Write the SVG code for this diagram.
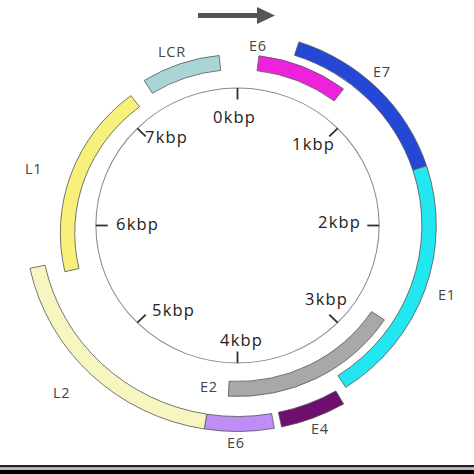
<svg xmlns="http://www.w3.org/2000/svg" width="474" height="474" viewBox="0 0 474 474">
<style>
.band{stroke:#555;stroke-width:0.8;stroke-linejoin:miter}
.kb{font-family:"Open Sans","DejaVu Sans",sans-serif;font-size:16.5px;letter-spacing:1.2px;fill:#222}
.gl{font-family:"Open Sans","DejaVu Sans",sans-serif;font-size:14.5px;letter-spacing:0.8px;fill:#444}
.tick{stroke:#333;stroke-width:1.8}
</style>
<rect width="474" height="474" fill="#fff"/>
<g id="arrow">
<line x1="198" y1="15.5" x2="259" y2="15.5" stroke="#555" stroke-width="5"/>
<polygon points="257,7 275,15.5 257,24" fill="#555"/>
</g>
<g id="genome" transform="translate(237.5 225.5) scale(1.03 1)">
<circle cx="0" cy="0" r="137.5" fill="none" stroke="#888" stroke-width="1"/>
</g>
<g id="connectors" transform="translate(237.5 225.5) scale(1.03 1)">
<line class="tick" x1="0" y1="-137.5" x2="0" y2="-126"/>
<line class="tick" x1="97.2" y1="-97.2" x2="89.1" y2="-89.1"/>
<line class="tick" x1="137.5" y1="0" x2="126" y2="0"/>
<line class="tick" x1="97.2" y1="97.2" x2="89.1" y2="89.1"/>
<line class="tick" x1="0" y1="137.5" x2="0" y2="126"/>
<line class="tick" x1="-97.2" y1="97.2" x2="-89.1" y2="89.1"/>
<line class="tick" x1="-137.5" y1="0" x2="-126" y2="0"/>
<line class="tick" x1="-97.2" y1="-97.2" x2="-89.1" y2="-89.1"/>
</g>
<g id="scale-labels">
<text class="kb" x="213" y="123">0kbp</text>
<text class="kb" x="292" y="150">1kbp</text>
<text class="kb" x="318" y="228">2kbp</text>
<text class="kb" x="305" y="305">3kbp</text>
<text class="kb" x="220" y="346">4kbp</text>
<text class="kb" x="152" y="316">5kbp</text>
<text class="kb" x="116" y="230">6kbp</text>
<text class="kb" x="145" y="143">7kbp</text>
</g>
<g id="LCR">
<path class="band" fill="#a9d5d8" transform="translate(237.5 225.5) scale(1.03 1)" d="M -90.61 -145.01 A 171 171 0 0 1 -17.87 -170.06 L -16.30 -155.14 A 156 156 0 0 0 -82.66 -132.29 Z"/>
<text class="gl" x="158" y="57">LCR</text>
</g>
<g id="E6-top">
<path class="band" fill="#ee22dd" transform="translate(237.5 225.5) scale(1.03 1)" d="M 20.84 -169.72 A 171 171 0 0 1 102.91 -136.56 L 93.88 -124.58 A 156 156 0 0 0 19.02 -154.83 Z"/>
<text class="gl" x="249" y="51">E6</text>
</g>
<g id="E7">
<path class="band" fill="#2447d6" transform="translate(237.5 225.5) scale(1.03 1)" d="M 59.64 -183.56 A 193 193 0 0 1 183.56 -59.64 L 170.25 -55.31 A 179 179 0 0 0 55.31 -170.25 Z"/>
<text class="gl" x="373" y="77">E7</text>
</g>
<g id="E1">
<path class="band" fill="#22e6f0" transform="translate(237.5 225.5) scale(1.03 1)" d="M 183.56 -59.64 A 193 193 0 0 1 105.11 161.87 L 97.48 150.13 A 179 179 0 0 0 170.25 -55.31 Z"/>
<text class="gl" x="438" y="300">E1</text>
</g>
<g id="E2">
<path class="band" fill="#a8a8a8" transform="translate(237.5 225.5) scale(1.03 1)" d="M 142.60 94.37 A 171 171 0 0 1 -8.94 170.76 L -8.16 155.78 A 156 156 0 0 0 130.09 86.10 Z"/>
<text class="gl" x="200" y="392">E2</text>
</g>
<g id="E4">
<path class="band" fill="#6e0e6e" transform="translate(237.5 225.5) scale(1.03 1)" d="M 103 178.40 A 206 206 0 0 1 42.83 201.49 L 39.71 186.82 A 191 191 0 0 0 95.5 165.41 Z"/>
<text class="gl" x="311" y="434">E4</text>
</g>
<g id="E6-bottom">
<path class="band" fill="#c08cf5" transform="translate(237.5 225.5) scale(1.03 1)" d="M 35.77 202.87 A 206 206 0 0 1 -32.22 203.46 L -29.87 188.65 A 191 191 0 0 0 33.16 188.10 Z"/>
<text class="gl" x="227" y="448">E6</text>
</g>
<g id="L2">
<path class="band" fill="#f8f6c0" transform="translate(237.5 225.5) scale(1.03 1)" d="M -32.22 203.46 A 206 206 0 0 1 -201.49 42.83 L -186.82 39.71 A 191 191 0 0 0 -29.87 188.65 Z"/>
<text class="gl" x="53" y="398">L2</text>
</g>
<g id="L1">
<path class="band" fill="#f7f07a" transform="translate(237.5 225.5) scale(1.03 1)" d="M -167.60 46.20 A 172 172 0 0 1 -103.51 -129.86 L -95.08 -118.68 A 158 158 0 0 0 -153.96 43.05 Z"/>
<text class="gl" x="25" y="174">L1</text>
</g>
<g id="bottom-bar">
<rect x="0" y="465" width="474" height="2.5" fill="#222"/>
<rect x="0" y="467.5" width="474" height="2.5" fill="#bbb"/>
<rect x="0" y="470" width="474" height="4" fill="#000"/>
</g>
</svg>
